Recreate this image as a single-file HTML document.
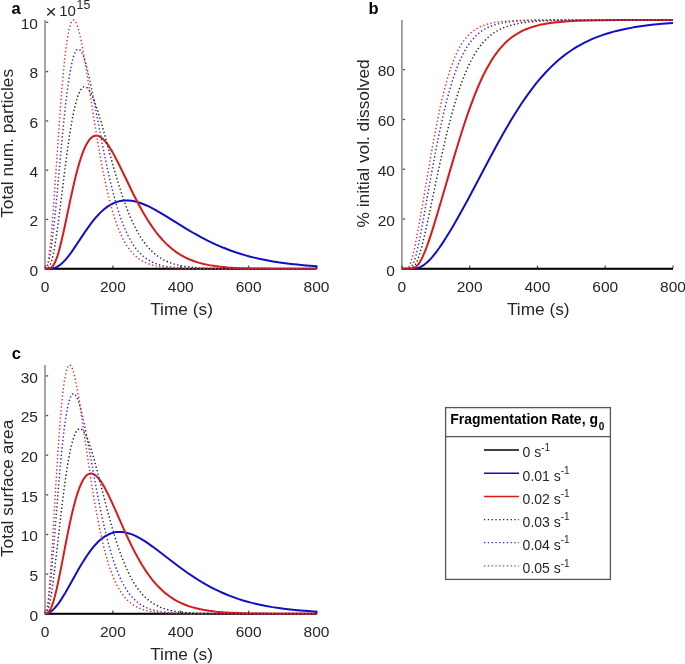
<!DOCTYPE html>
<html><head><meta charset="utf-8"><title>Fragmentation</title><style>html,body{margin:0;padding:0;background:#fff;width:685px;height:664px;overflow:hidden}svg{display:block}</style></head><body>
<svg width="685" height="664" viewBox="0 0 685 664" font-family="Liberation Sans, Arial, Helvetica, sans-serif">
<rect width="685" height="664" fill="#fff"/>
<text x="11.5" y="13.6" font-size="16.5" font-weight="bold" fill="#000">a</text>
<text x="368.4" y="13.6" font-size="16.5" font-weight="bold" fill="#000">b</text>
<text x="11.8" y="359.3" font-size="16.5" font-weight="bold" fill="#000">c</text>
<line x1="45.0" y1="20.0" x2="45.0" y2="269.6" stroke="#8f8f8f" stroke-width="1.6"/>
<line x1="44.2" y1="268.8" x2="316.5" y2="268.8" stroke="#8f8f8f" stroke-width="1.6"/>
<line x1="45.8" y1="268.8" x2="48.2" y2="268.8" stroke="#555" stroke-width="1.3"/>
<text x="38" y="275.5" text-anchor="end" font-size="15.5" fill="#262626">0</text>
<line x1="45.8" y1="219.5" x2="48.2" y2="219.5" stroke="#555" stroke-width="1.3"/>
<text x="38" y="226.2" text-anchor="end" font-size="15.5" fill="#262626">2</text>
<line x1="45.8" y1="170.2" x2="48.2" y2="170.2" stroke="#555" stroke-width="1.3"/>
<text x="38" y="176.9" text-anchor="end" font-size="15.5" fill="#262626">4</text>
<line x1="45.8" y1="120.9" x2="48.2" y2="120.9" stroke="#555" stroke-width="1.3"/>
<text x="38" y="127.6" text-anchor="end" font-size="15.5" fill="#262626">6</text>
<line x1="45.8" y1="71.6" x2="48.2" y2="71.6" stroke="#555" stroke-width="1.3"/>
<text x="38" y="78.3" text-anchor="end" font-size="15.5" fill="#262626">8</text>
<line x1="45.8" y1="22.3" x2="48.2" y2="22.3" stroke="#555" stroke-width="1.3"/>
<text x="38" y="29" text-anchor="end" font-size="15.5" fill="#262626">10</text>
<line x1="45" y1="268.0" x2="45" y2="265.6" stroke="#555" stroke-width="1.3"/>
<text x="45" y="292" text-anchor="middle" font-size="15.5" fill="#262626">0</text>
<line x1="112.88" y1="268.0" x2="112.88" y2="265.6" stroke="#555" stroke-width="1.3"/>
<text x="112.88" y="292" text-anchor="middle" font-size="15.5" fill="#262626">200</text>
<line x1="180.75" y1="268.0" x2="180.75" y2="265.6" stroke="#555" stroke-width="1.3"/>
<text x="180.75" y="292" text-anchor="middle" font-size="15.5" fill="#262626">400</text>
<line x1="248.62" y1="268.0" x2="248.62" y2="265.6" stroke="#555" stroke-width="1.3"/>
<text x="248.62" y="292" text-anchor="middle" font-size="15.5" fill="#262626">600</text>
<line x1="316.5" y1="268.0" x2="316.5" y2="265.6" stroke="#555" stroke-width="1.3"/>
<text x="316.5" y="292" text-anchor="middle" font-size="15.5" fill="#262626">800</text>
<text x="181.55" y="315.2" text-anchor="middle" font-size="17.3" fill="#262626">Time (s)</text>
<text transform="translate(13.1,143.4) rotate(-90)" x="0" y="0" text-anchor="middle" font-size="17.3" fill="#262626">Total num. particles</text>
<text x="45.4" y="17.9" font-size="19" fill="#262626">×</text>
<text x="59.2" y="16.4" font-size="15" fill="#262626">10</text>
<text x="76.6" y="8.8" font-size="12.3" fill="#262626">15</text>
<line x1="401.9" y1="20.0" x2="401.9" y2="269.6" stroke="#8f8f8f" stroke-width="1.6"/>
<line x1="401.09999999999997" y1="268.8" x2="673.0" y2="268.8" stroke="#8f8f8f" stroke-width="1.6"/>
<line x1="402.7" y1="268.8" x2="405.09999999999997" y2="268.8" stroke="#555" stroke-width="1.3"/>
<text x="394.9" y="275.5" text-anchor="end" font-size="15.5" fill="#262626">0</text>
<line x1="402.7" y1="219.02" x2="405.09999999999997" y2="219.02" stroke="#555" stroke-width="1.3"/>
<text x="394.9" y="225.72" text-anchor="end" font-size="15.5" fill="#262626">20</text>
<line x1="402.7" y1="169.24" x2="405.09999999999997" y2="169.24" stroke="#555" stroke-width="1.3"/>
<text x="394.9" y="175.94" text-anchor="end" font-size="15.5" fill="#262626">40</text>
<line x1="402.7" y1="119.46" x2="405.09999999999997" y2="119.46" stroke="#555" stroke-width="1.3"/>
<text x="394.9" y="126.16" text-anchor="end" font-size="15.5" fill="#262626">60</text>
<line x1="402.7" y1="69.68" x2="405.09999999999997" y2="69.68" stroke="#555" stroke-width="1.3"/>
<text x="394.9" y="76.38" text-anchor="end" font-size="15.5" fill="#262626">80</text>
<line x1="401.9" y1="268.0" x2="401.9" y2="265.6" stroke="#555" stroke-width="1.3"/>
<text x="401.9" y="292" text-anchor="middle" font-size="15.5" fill="#262626">0</text>
<line x1="469.67" y1="268.0" x2="469.67" y2="265.6" stroke="#555" stroke-width="1.3"/>
<text x="469.67" y="292" text-anchor="middle" font-size="15.5" fill="#262626">200</text>
<line x1="537.45" y1="268.0" x2="537.45" y2="265.6" stroke="#555" stroke-width="1.3"/>
<text x="537.45" y="292" text-anchor="middle" font-size="15.5" fill="#262626">400</text>
<line x1="605.22" y1="268.0" x2="605.22" y2="265.6" stroke="#555" stroke-width="1.3"/>
<text x="605.22" y="292" text-anchor="middle" font-size="15.5" fill="#262626">600</text>
<line x1="673" y1="268.0" x2="673" y2="265.6" stroke="#555" stroke-width="1.3"/>
<text x="673" y="292" text-anchor="middle" font-size="15.5" fill="#262626">800</text>
<text x="538.25" y="315.2" text-anchor="middle" font-size="17.3" fill="#262626">Time (s)</text>
<text transform="translate(369.4,143.4) rotate(-90)" x="0" y="0" text-anchor="middle" font-size="17.3" fill="#262626">% initial vol. dissolved</text>
<line x1="45.0" y1="365.0" x2="45.0" y2="614.5999999999999" stroke="#8f8f8f" stroke-width="1.6"/>
<line x1="44.2" y1="613.8" x2="316.5" y2="613.8" stroke="#8f8f8f" stroke-width="1.6"/>
<line x1="45.8" y1="613.8" x2="48.2" y2="613.8" stroke="#555" stroke-width="1.3"/>
<text x="38" y="620.5" text-anchor="end" font-size="15.5" fill="#262626">0</text>
<line x1="45.8" y1="574.15" x2="48.2" y2="574.15" stroke="#555" stroke-width="1.3"/>
<text x="38" y="580.85" text-anchor="end" font-size="15.5" fill="#262626">5</text>
<line x1="45.8" y1="534.5" x2="48.2" y2="534.5" stroke="#555" stroke-width="1.3"/>
<text x="38" y="541.2" text-anchor="end" font-size="15.5" fill="#262626">10</text>
<line x1="45.8" y1="494.85" x2="48.2" y2="494.85" stroke="#555" stroke-width="1.3"/>
<text x="38" y="501.55" text-anchor="end" font-size="15.5" fill="#262626">15</text>
<line x1="45.8" y1="455.2" x2="48.2" y2="455.2" stroke="#555" stroke-width="1.3"/>
<text x="38" y="461.9" text-anchor="end" font-size="15.5" fill="#262626">20</text>
<line x1="45.8" y1="415.55" x2="48.2" y2="415.55" stroke="#555" stroke-width="1.3"/>
<text x="38" y="422.25" text-anchor="end" font-size="15.5" fill="#262626">25</text>
<line x1="45.8" y1="375.9" x2="48.2" y2="375.9" stroke="#555" stroke-width="1.3"/>
<text x="38" y="382.6" text-anchor="end" font-size="15.5" fill="#262626">30</text>
<line x1="45" y1="613.0" x2="45" y2="610.5999999999999" stroke="#555" stroke-width="1.3"/>
<text x="45" y="636.8" text-anchor="middle" font-size="15.5" fill="#262626">0</text>
<line x1="112.88" y1="613.0" x2="112.88" y2="610.5999999999999" stroke="#555" stroke-width="1.3"/>
<text x="112.88" y="636.8" text-anchor="middle" font-size="15.5" fill="#262626">200</text>
<line x1="180.75" y1="613.0" x2="180.75" y2="610.5999999999999" stroke="#555" stroke-width="1.3"/>
<text x="180.75" y="636.8" text-anchor="middle" font-size="15.5" fill="#262626">400</text>
<line x1="248.62" y1="613.0" x2="248.62" y2="610.5999999999999" stroke="#555" stroke-width="1.3"/>
<text x="248.62" y="636.8" text-anchor="middle" font-size="15.5" fill="#262626">600</text>
<line x1="316.5" y1="613.0" x2="316.5" y2="610.5999999999999" stroke="#555" stroke-width="1.3"/>
<text x="316.5" y="636.8" text-anchor="middle" font-size="15.5" fill="#262626">800</text>
<text x="181.55" y="660" text-anchor="middle" font-size="17.3" fill="#262626">Time (s)</text>
<text transform="translate(13.1,488.4) rotate(-90)" x="0" y="0" text-anchor="middle" font-size="17.3" fill="#262626">Total surface area</text>
<polyline points="45,268.8 316.5,268.8" fill="none" stroke="#000" stroke-width="2" stroke-linejoin="round" stroke-linecap="butt"/>
<polyline points="45,268.8 48.73,268.77 50.94,268.62 53.14,268.23 55.18,267.6 56.37,267.09 57.39,266.58 59.42,265.3 61.46,263.7 63.67,261.64 65.36,259.84 67.23,257.66 69.27,255.08 71.3,252.32 75.2,246.69 85.72,230.9 88.95,226.32 91.83,222.45 95.06,218.44 98.11,214.98 101.17,211.88 104.05,209.29 106.77,207.16 109.48,205.34 112.2,203.82 114.91,202.59 117.63,201.64 120.51,200.94 123.4,200.52 126.45,200.38 129,200.48 131.54,200.76 134.09,201.21 136.8,201.87 139.52,202.69 142.4,203.73 145.45,204.98 148.68,206.46 153.94,209.15 160.05,212.61 166.33,216.4 180.41,225.17 187.2,229.32 194.32,233.49 200.94,237.16 208.58,241.09 216.04,244.61 223.51,247.8 231.15,250.72 235.56,252.26 240.14,253.74 244.72,255.11 249.47,256.42 254.22,257.62 259.15,258.76 264.07,259.79 269.16,260.76 274.42,261.67 279.68,262.48 285.28,263.26 291.05,263.96 296.99,264.6 303.26,265.19 316.5,266.2 316.5,268.8" fill="none" stroke="#1010c4" stroke-width="2" stroke-linejoin="round" stroke-linecap="butt"/>
<polyline points="45,268.8 47.72,268.78 49.07,268.62 50.26,268.23 50.94,267.85 51.45,267.48 52.13,266.86 52.64,266.28 53.82,264.56 55.01,262.29 56.2,259.47 57.39,256.12 58.58,252.27 59.76,247.98 61.12,242.61 64,229.95 70.62,198.51 73.85,183.99 75.71,176.22 77.41,169.66 79.11,163.64 80.63,158.71 82.5,153.33 84.37,148.69 86.23,144.78 87.25,142.96 88.27,141.35 89.12,140.17 90.14,138.94 91.16,137.92 92.17,137.09 93.19,136.46 94.21,136.01 95.23,135.75 96.25,135.66 96.92,135.69 97.77,135.83 98.62,136.09 99.47,136.44 100.32,136.9 101.17,137.46 102.86,138.84 104.73,140.75 106.6,143.02 108.46,145.62 110.5,148.77 112.2,151.62 113.89,154.63 117.63,161.73 121.36,169.26 132.22,191.71 135.78,198.8 139.01,204.96 142.57,211.42 146.13,217.49 149.53,222.89 152.92,227.88 156.15,232.26 159.54,236.49 162.76,240.15 166.16,243.65 169.55,246.79 173.11,249.75 176.68,252.36 180.41,254.78 182.45,255.96 184.65,257.14 186.86,258.23 189.06,259.23 193.65,261.05 198.57,262.65 203.66,263.99 209.09,265.13 215.03,266.09 221.47,266.87 227.92,267.43 235.05,267.88 243.03,268.22 252.19,268.46 262.54,268.62 275.1,268.72 316.5,268.8" fill="none" stroke="#d81a1a" stroke-width="2" stroke-linejoin="round" stroke-linecap="butt"/>
<polyline points="45,268.8 46.7,268.73 47.38,268.54 47.88,268.27 48.39,267.86 48.9,267.28 49.41,266.53 49.92,265.58 50.94,263.07 51.96,259.71 52.98,255.5 54.16,249.59 55.01,244.76 56.03,238.37 58.07,224.01 60.1,208.19 65.19,167.07 66.72,155.36 68.25,144.29 69.77,134.02 71.13,125.65 72.66,117.16 74.02,110.48 75.37,104.64 76.56,100.23 77.92,95.99 79.28,92.58 79.96,91.18 80.63,89.99 81.31,88.99 81.99,88.19 82.67,87.57 83.35,87.14 84.03,86.88 84.71,86.8 85.22,86.85 85.89,87.06 86.57,87.43 87.25,87.95 88.44,89.21 89.8,91.15 91.16,93.59 92.51,96.47 94.04,100.18 95.57,104.33 98.11,112.04 101,121.69 103.88,131.95 112.71,164.18 115.59,174.26 118.31,183.33 121.36,192.93 124.24,201.38 127.13,209.18 130.01,216.32 132.9,222.81 135.95,228.99 139.01,234.49 140.53,237 142.23,239.61 143.76,241.81 145.45,244.08 147.15,246.19 148.85,248.14 150.55,249.95 152.41,251.78 154.11,253.3 155.98,254.84 157.84,256.24 159.71,257.51 161.58,258.67 163.61,259.81 165.65,260.83 167.68,261.74 169.89,262.63 172.1,263.41 174.47,264.15 176.85,264.79 179.39,265.39 182.11,265.93 187.88,266.83 194.32,267.52 200.43,267.96 207.39,268.28 215.54,268.51 225.38,268.66 251,268.78 316.5,268.8" fill="none" stroke="#222" stroke-width="1.45" stroke-dasharray="1.35 2.35" stroke-linejoin="round"/>
<polyline points="45,268.8 45.51,268.65 46.02,268.29 46.53,267.67 46.87,267.11 47.38,266.03 47.88,264.65 48.73,261.67 49.58,257.83 50.43,253.14 51.28,247.65 52.3,240.06 53.82,226.92 55.52,210.34 57.22,192.37 61.63,143.96 64,119.65 65.36,106.96 66.55,96.74 67.74,87.43 68.93,79.1 70.11,71.78 71.3,65.5 72.32,60.94 73.51,56.6 74.02,55.05 74.7,53.28 75.2,52.16 75.88,50.95 76.39,50.24 77.07,49.57 77.58,49.26 78.26,49.1 78.77,49.17 79.28,49.39 79.79,49.75 80.46,50.47 81.48,51.99 82.67,54.41 83.86,57.47 85.05,61.09 86.23,65.23 87.59,70.5 89.8,80.08 92.17,91.46 94.55,103.55 102.18,143.4 104.73,156.07 107.11,167.32 109.82,179.38 112.37,189.83 114.91,199.42 117.63,208.69 120.34,216.99 123.06,224.36 124.41,227.71 125.94,231.23 127.3,234.15 128.83,237.2 130.35,240.01 131.88,242.61 133.41,245.01 135.1,247.44 136.63,249.44 138.33,251.46 140.03,253.3 141.89,255.11 143.42,256.45 145.12,257.8 146.81,259.01 148.68,260.2 150.55,261.25 152.58,262.27 154.62,263.15 156.65,263.93 158.86,264.65 161.07,265.28 163.44,265.85 165.82,266.33 168.53,266.79 171.25,267.17 177.53,267.8 183.13,268.16 189.74,268.43 197.72,268.61 207.56,268.72 233.52,268.79 316.5,268.8" fill="none" stroke="#2a2ad0" stroke-width="1.45" stroke-dasharray="1.35 2.35" stroke-linejoin="round"/>
<polyline points="45,268.8 45.51,268.66 45.85,268.39 46.19,267.94 46.53,267.29 47.04,265.92 47.38,264.74 48.05,261.66 48.73,257.66 49.41,252.74 50.09,246.96 50.94,238.59 52.3,222.95 53.65,205.13 58.74,131.04 60.95,100.96 62.14,86.28 63.16,74.73 64.17,64.22 65.19,54.82 66.21,46.55 67.23,39.43 68.25,33.47 69.27,28.65 70.28,24.94 70.79,23.49 71.3,22.3 71.81,21.37 72.32,20.69 72.83,20.25 73.17,20.09 73.51,20.03 73.85,20.07 74.36,20.31 74.86,20.77 75.37,21.43 76.22,22.96 77.24,25.47 78.26,28.64 79.28,32.4 80.46,37.46 81.65,43.15 83.52,53.12 85.72,66.13 87.93,79.97 95.06,125.82 97.43,140.33 99.64,153.12 102.18,166.91 104.73,179.6 107.11,190.39 109.65,200.85 111.01,205.96 112.37,210.77 113.72,215.27 115.08,219.48 116.44,223.41 117.8,227.08 119.15,230.49 120.68,234.03 122.21,237.29 123.73,240.28 125.26,243.01 126.79,245.51 128.32,247.78 130.01,250.08 131.71,252.14 133.58,254.17 135.1,255.66 136.8,257.14 138.5,258.47 140.19,259.66 142.06,260.82 143.93,261.84 145.96,262.81 148,263.66 150.21,264.44 152.41,265.11 154.79,265.72 157.33,266.27 159.88,266.72 162.76,267.14 169.04,267.79 174.81,268.17 181.43,268.43 189.4,268.61 199.59,268.72 226.57,268.79 316.5,268.8" fill="none" stroke="#dc3030" stroke-width="1.45" stroke-dasharray="1.35 2.35" stroke-linejoin="round"/>
<polyline points="401.9,268.8 673,268.8" fill="none" stroke="#000" stroke-width="2" stroke-linejoin="round" stroke-linecap="butt"/>
<polyline points="401.9,268.8 410.88,268.78 412.74,268.72 414.44,268.58 416.13,268.32 417.83,267.92 419.52,267.33 421.05,266.65 422.91,265.59 424.77,264.3 426.64,262.79 428.5,261.07 430.37,259.15 432.4,256.86 434.6,254.18 436.8,251.31 439.01,248.27 441.21,245.08 446.12,237.54 451.38,228.95 457.14,219.04 462.56,209.35 468.49,198.45 490.01,157.82 498.65,141.83 503.39,133.33 507.8,125.66 512.03,118.53 516.27,111.66 521.18,104.04 526.1,96.84 531.01,90.06 535.76,83.93 540.5,78.21 545.41,72.71 550.33,67.64 555.24,62.98 557.95,60.58 560.66,58.29 563.37,56.12 566.08,54.06 568.97,51.99 571.85,50.03 574.73,48.18 577.61,46.43 580.49,44.79 583.54,43.15 586.59,41.61 589.81,40.1 593.03,38.68 596.24,37.37 599.63,36.07 603.02,34.88 606.41,33.76 609.97,32.68 613.7,31.64 617.42,30.68 625.22,28.92 633.52,27.36 642.33,26 651.82,24.81 661.99,23.8 673,22.94" fill="none" stroke="#1010c4" stroke-width="2" stroke-linejoin="round" stroke-linecap="butt"/>
<polyline points="401.9,268.8 408.85,268.79 411.05,268.7 412.07,268.56 413.08,268.32 414.1,267.94 414.95,267.5 415.96,266.78 416.98,265.86 417.83,264.93 418.84,263.61 419.69,262.33 420.71,260.61 421.72,258.69 422.74,256.58 424.77,251.85 426.81,246.56 429.18,239.82 431.72,232.1 434.6,222.92 437.82,212.28 452.9,160.88 456.63,148.44 460.02,137.43 463.74,125.75 467.3,115.13 470.69,105.55 474.08,96.56 477.98,87 480.01,82.35 481.87,78.29 483.74,74.43 485.77,70.44 487.8,66.69 489.84,63.16 491.87,59.85 493.9,56.75 495.94,53.86 497.97,51.16 500,48.65 502.21,46.14 504.41,43.82 506.78,41.54 508.98,39.59 511.19,37.81 513.56,36.06 515.93,34.48 518.3,33.04 520.85,31.64 523.39,30.39 526.1,29.2 528.98,28.08 531.86,27.09 534.91,26.17 537.96,25.36 541.35,24.59 544.74,23.92 548.29,23.32 552.19,22.77 559.82,21.93 568.29,21.28 578.12,20.79 589.64,20.43 602.85,20.19 619.46,20.04 673,19.91" fill="none" stroke="#d81a1a" stroke-width="2" stroke-linejoin="round" stroke-linecap="butt"/>
<polyline points="401.9,268.8 407.66,268.79 409.52,268.71 410.37,268.58 411.05,268.4 411.73,268.14 412.41,267.76 413.25,267.12 413.93,266.43 414.61,265.59 415.29,264.58 415.96,263.4 416.64,262.05 417.32,260.52 418.17,258.38 419.69,253.89 421.39,248.08 423.08,241.54 425.11,232.96 428.67,216.73 435.96,181.92 439.35,166.05 442.73,150.77 445.95,136.97 448.83,125.3 451.55,114.97 454.43,104.73 457.14,95.8 458.83,90.57 460.53,85.61 462.22,80.92 464.08,76.06 465.78,71.92 467.64,67.66 469.51,63.69 471.37,60 473.23,56.59 475.27,53.15 477.13,50.26 479.16,47.36 481.2,44.71 483.23,42.31 485.43,39.94 487.64,37.81 489.67,36.04 491.7,34.43 493.74,32.98 495.94,31.57 498.14,30.3 500.51,29.08 503.05,27.94 505.6,26.93 508.31,25.99 511.02,25.18 513.9,24.43 516.95,23.76 520.17,23.15 523.56,22.62 527.11,22.15 531.01,21.73 538.47,21.13 546.94,20.69 556.94,20.37 569.13,20.15 583.2,20.02 601.67,19.95 673,19.9" fill="none" stroke="#222" stroke-width="1.45" stroke-dasharray="1.35 2.35" stroke-linejoin="round"/>
<polyline points="401.9,268.8 406.47,268.8 407.83,268.74 408.51,268.64 409.19,268.46 410.2,267.94 410.88,267.37 411.39,266.8 412.07,265.85 412.57,264.97 413.59,262.77 414.78,259.47 415.96,255.43 417.32,250.01 418.84,243.06 420.37,235.44 423.08,220.82 429.35,185.37 432.4,168.5 435.45,152.3 438.33,137.78 441.04,124.93 443.58,113.67 446.29,102.53 448.83,92.94 450.36,87.58 451.88,82.52 453.41,77.76 455.1,72.8 456.63,68.64 458.32,64.33 460.02,60.35 461.71,56.67 463.41,53.29 465.27,49.89 466.96,47.07 468.83,44.25 470.69,41.7 472.72,39.2 474.76,36.97 476.79,34.98 478.49,33.5 480.35,32.02 482.21,30.71 484.25,29.43 486.28,28.3 488.48,27.22 490.69,26.28 493.06,25.39 495.43,24.63 497.97,23.94 500.68,23.3 503.56,22.74 506.61,22.24 509.83,21.81 516.95,21.12 523.89,20.69 531.86,20.38 541.35,20.17 553.38,20.03 585.91,19.92 673,19.9" fill="none" stroke="#2a2ad0" stroke-width="1.45" stroke-dasharray="1.35 2.35" stroke-linejoin="round"/>
<polyline points="401.9,268.8 405.29,268.78 406.47,268.62 406.98,268.43 407.49,268.13 408,267.7 408.51,267.12 409.19,266.09 409.69,265.11 410.2,263.96 410.88,262.16 412.07,258.33 413.25,253.75 414.44,248.54 415.62,242.85 418.5,227.61 421.55,210.23 430.53,157.65 433.42,141.55 436.13,127.17 439.01,112.91 441.89,99.86 444.6,88.75 447.31,78.81 449.85,70.55 452.39,63.27 453.75,59.76 455.1,56.5 456.46,53.48 457.81,50.69 459.17,48.1 460.69,45.44 462.22,43 463.74,40.79 465.27,38.78 466.79,36.96 468.49,35.13 470.18,33.49 471.88,32.02 473.57,30.71 475.44,29.43 477.3,28.3 479.16,27.31 481.2,26.35 483.4,25.46 485.6,24.69 487.97,23.98 490.35,23.38 493.06,22.8 495.77,22.32 498.65,21.89 501.87,21.51 508.82,20.91 515.42,20.56 523.39,20.29 532.88,20.11 545.07,20 578.45,19.91 673,19.9" fill="none" stroke="#dc3030" stroke-width="1.45" stroke-dasharray="1.35 2.35" stroke-linejoin="round"/>
<polyline points="45,613.8 316.5,613.8" fill="none" stroke="#000" stroke-width="2" stroke-linejoin="round" stroke-linecap="butt"/>
<polyline points="45,613.8 46.7,613.49 48.22,612.95 49.92,612.06 51.62,610.88 53.31,609.42 55.01,607.7 56.88,605.52 58.74,603.07 61.8,598.59 65.36,592.78 68.76,586.86 78.26,569.82 81.31,564.58 84.03,560.15 87.08,555.47 89.97,551.38 92.85,547.67 95.57,544.52 98.45,541.56 101.34,539.01 102.69,537.95 104.22,536.86 105.75,535.89 107.28,535.03 108.8,534.27 110.33,533.63 111.86,533.09 113.38,532.65 114.91,532.32 116.44,532.08 117.97,531.94 119.66,531.89 122.04,531.99 124.58,532.33 127.13,532.88 129.84,533.68 132.56,534.68 135.44,535.95 138.33,537.41 141.38,539.12 143.93,540.67 146.64,542.43 152.58,546.56 158.86,551.24 173.11,562.22 180.07,567.46 187.37,572.72 194.32,577.42 198.4,580.02 202.3,582.39 206.2,584.65 210.11,586.79 214.01,588.82 217.91,590.72 221.81,592.52 225.89,594.27 229.96,595.9 234.03,597.42 238.1,598.84 242.35,600.2 246.59,601.45 251,602.65 255.41,603.74 259.99,604.77 266.1,606.01 272.38,607.12 278.83,608.1 285.62,609 292.74,609.8 300.21,610.5 308.19,611.12 316.5,611.65 316.5,613.8" fill="none" stroke="#1010c4" stroke-width="2" stroke-linejoin="round" stroke-linecap="butt"/>
<polyline points="45,613.8 45.68,613.78 46.36,613.67 47.04,613.42 47.55,613.12 48.22,612.56 48.73,612.01 49.41,611.1 49.92,610.28 51.11,607.89 52.3,604.87 53.48,601.25 54.67,597.07 56.71,588.81 58.91,578.62 61.12,567.58 67.06,536.8 68.93,527.59 70.62,519.65 72.49,511.5 74.19,504.7 75.88,498.54 77.58,493.05 79.28,488.25 80.8,484.52 82.5,481.05 83.35,479.57 84.2,478.26 85.05,477.12 85.89,476.14 86.74,475.32 87.59,474.67 88.44,474.16 89.29,473.81 90.14,473.6 90.99,473.53 91.66,473.57 92.51,473.74 93.19,473.97 94.04,474.36 95.57,475.37 97.26,476.9 98.96,478.82 100.66,481.09 102.52,483.95 104.39,487.13 107.44,492.92 111.01,500.33 114.4,507.82 124.92,531.6 128.32,538.96 131.37,545.31 134.93,552.34 138.33,558.61 141.72,564.44 145.12,569.82 148.34,574.52 151.73,579.04 155.13,583.14 158.52,586.83 162.08,590.31 165.65,593.4 169.38,596.25 173.28,598.85 175.32,600.07 177.53,601.29 179.73,602.41 182.11,603.52 184.48,604.52 186.86,605.44 189.4,606.33 191.95,607.13 197.21,608.54 202.98,609.77 209.26,610.8 216.04,611.63 222.83,612.24 230.47,612.73 239.12,613.1 248.96,613.38 259.99,613.56 273.4,613.68 316.5,613.8" fill="none" stroke="#d81a1a" stroke-width="2" stroke-linejoin="round" stroke-linecap="butt"/>
<polyline points="45,613.8 45.51,613.74 45.85,613.6 46.36,613.17 46.7,612.72 47.38,611.45 48.22,609.11 49.07,605.97 49.92,602.07 50.77,597.48 51.62,592.25 53.14,581.51 54.84,568.03 60.95,514.58 63.67,492.24 65.02,482.02 66.38,472.59 67.74,464.01 69.1,456.34 70.45,449.61 71.64,444.52 73,439.59 74.36,435.62 75.03,433.99 75.71,432.58 76.39,431.4 77.07,430.44 77.75,429.69 78.43,429.16 79.11,428.82 79.96,428.68 80.46,428.74 81.14,428.97 81.65,429.27 82.33,429.81 83.52,431.15 84.71,432.95 86.06,435.54 87.42,438.62 88.78,442.15 90.31,446.58 92.85,454.87 95.57,464.61 98.28,474.95 106.6,507.41 109.48,518.17 112.03,527.23 114.91,536.9 117.8,545.88 120.51,553.66 123.4,561.22 126.28,568.04 127.81,571.37 129.33,574.5 130.86,577.44 132.39,580.21 133.92,582.79 135.44,585.21 136.97,587.47 138.67,589.81 140.36,591.96 142.06,593.94 143.76,595.77 145.45,597.45 147.32,599.13 149.19,600.66 150.88,601.92 152.75,603.19 154.62,604.33 156.65,605.45 158.69,606.44 160.73,607.33 162.76,608.11 164.97,608.87 167.34,609.57 169.72,610.18 172.27,610.75 174.81,611.23 180.58,612.07 187.03,612.7 192.97,613.08 199.92,613.37 208.07,613.56 218.08,613.69 244.21,613.79 316.5,613.8" fill="none" stroke="#222" stroke-width="1.45" stroke-dasharray="1.35 2.35" stroke-linejoin="round"/>
<polyline points="45,613.8 45.17,613.75 45.51,613.45 45.85,612.91 46.19,612.13 46.87,609.87 47.55,606.68 48.22,602.63 48.9,597.77 50.26,585.92 51.45,573.64 52.81,558 57.73,496.19 59.93,470.12 61.12,457.29 62.14,447.11 63.33,436.29 64.34,427.96 65.53,419.4 66.55,413.07 67.57,407.68 68.76,402.55 69.27,400.73 69.94,398.64 70.45,397.33 71.13,395.91 71.64,395.09 72.32,394.3 72.83,393.94 73.51,393.75 74.02,393.82 74.53,394.07 75.03,394.48 75.54,395.05 76.05,395.79 76.56,396.67 77.58,398.86 78.6,401.58 79.79,405.34 80.97,409.68 82.16,414.51 84.2,423.74 86.4,434.76 88.78,447.37 96.08,487.12 98.45,499.46 100.83,511.19 103.54,523.72 106.09,534.54 108.63,544.43 111.18,553.38 113.89,561.92 115.25,565.82 116.61,569.47 117.97,572.89 119.49,576.48 120.85,579.44 122.38,582.53 123.9,585.38 125.43,588 126.96,590.4 128.66,592.84 130.18,594.84 131.88,596.86 133.58,598.69 135.44,600.49 136.97,601.81 138.67,603.14 140.36,604.33 142.23,605.5 144.1,606.54 145.96,607.45 148,608.32 150.04,609.08 152.24,609.79 154.45,610.4 156.82,610.96 159.37,611.46 162.08,611.9 164.97,612.28 171.25,612.88 177.02,613.22 183.63,613.46 191.61,613.63 201.62,613.73 228.09,613.79 316.5,613.8" fill="none" stroke="#2a2ad0" stroke-width="1.45" stroke-dasharray="1.35 2.35" stroke-linejoin="round"/>
<polyline points="45,613.8 45.34,613.7 45.68,613.35 46.19,612.26 46.7,610.39 47.21,607.73 47.72,604.28 48.39,598.49 49.58,585.42 50.6,571.73 51.79,553.63 56.2,479.17 58.07,449.76 59.93,423.98 60.95,411.78 61.8,402.68 62.82,393.11 63.67,386.25 64.51,380.4 65.53,374.69 66.55,370.36 67.06,368.7 67.57,367.36 68.08,366.33 68.59,365.61 69.1,365.18 69.6,365.03 69.94,365.08 70.45,365.37 70.79,365.71 71.3,366.42 72.15,368.12 73,370.41 73.85,373.24 74.86,377.28 75.88,381.95 76.9,387.15 78.6,396.8 80.63,409.59 89.29,468.67 91.49,483.06 93.7,496.69 96.25,511.33 98.62,523.85 101,535.24 103.37,545.49 105.92,555.27 107.28,560 108.63,564.4 109.99,568.5 111.35,572.3 112.71,575.83 114.23,579.48 115.76,582.81 117.29,585.86 118.81,588.63 120.34,591.15 121.87,593.44 123.57,595.74 125.26,597.8 127.13,599.8 128.66,601.27 130.35,602.73 132.05,604.03 133.75,605.19 135.61,606.31 137.48,607.29 139.35,608.15 141.38,608.97 143.59,609.72 145.79,610.36 148.17,610.94 150.55,611.43 153.09,611.86 155.98,612.26 162.42,612.89 168.19,613.23 174.81,613.47 182.96,613.63 193.31,613.73 220.8,613.79 316.5,613.8" fill="none" stroke="#dc3030" stroke-width="1.45" stroke-dasharray="1.35 2.35" stroke-linejoin="round"/>
<rect x="445.6" y="407.6" width="164.8" height="171.8" fill="#fff" stroke="#555" stroke-width="1.3"/>
<line x1="445.6" y1="436.6" x2="610.4" y2="436.6" stroke="#555" stroke-width="1.3"/>
<text x="450.2" y="424.4" font-size="14" font-weight="bold" fill="#000">Fragmentation Rate, g<tspan font-size="10" dx="0.8" dy="6">0</tspan></text>
<line x1="484" y1="450.1" x2="519" y2="450.1" stroke="#000" stroke-width="1.5"/>
<text x="522.6" y="457.4" font-size="14" fill="#262626">0 s<tspan font-size="10" dy="-6.6">-1</tspan></text>
<line x1="484" y1="473.25" x2="519" y2="473.25" stroke="#1010c4" stroke-width="1.5"/>
<text x="522.6" y="480.55" font-size="14" fill="#262626">0.01 s<tspan font-size="10" dy="-6.6">-1</tspan></text>
<line x1="484" y1="496.4" x2="519" y2="496.4" stroke="#d81a1a" stroke-width="1.5"/>
<text x="522.6" y="503.7" font-size="14" fill="#262626">0.02 s<tspan font-size="10" dy="-6.6">-1</tspan></text>
<line x1="484" y1="519.55" x2="519" y2="519.55" stroke="#222" stroke-width="1.3" stroke-dasharray="1.3 2.5"/>
<text x="522.6" y="526.85" font-size="14" fill="#262626">0.03 s<tspan font-size="10" dy="-6.6">-1</tspan></text>
<line x1="484" y1="542.7" x2="519" y2="542.7" stroke="#2a2ad0" stroke-width="1.3" stroke-dasharray="1.3 2.5"/>
<text x="522.6" y="550" font-size="14" fill="#262626">0.04 s<tspan font-size="10" dy="-6.6">-1</tspan></text>
<line x1="484" y1="565.85" x2="519" y2="565.85" stroke="#dc3030" stroke-width="1.3" stroke-dasharray="1.3 2.5"/>
<text x="522.6" y="573.15" font-size="14" fill="#262626">0.05 s<tspan font-size="10" dy="-6.6">-1</tspan></text>
</svg>
</body></html>
